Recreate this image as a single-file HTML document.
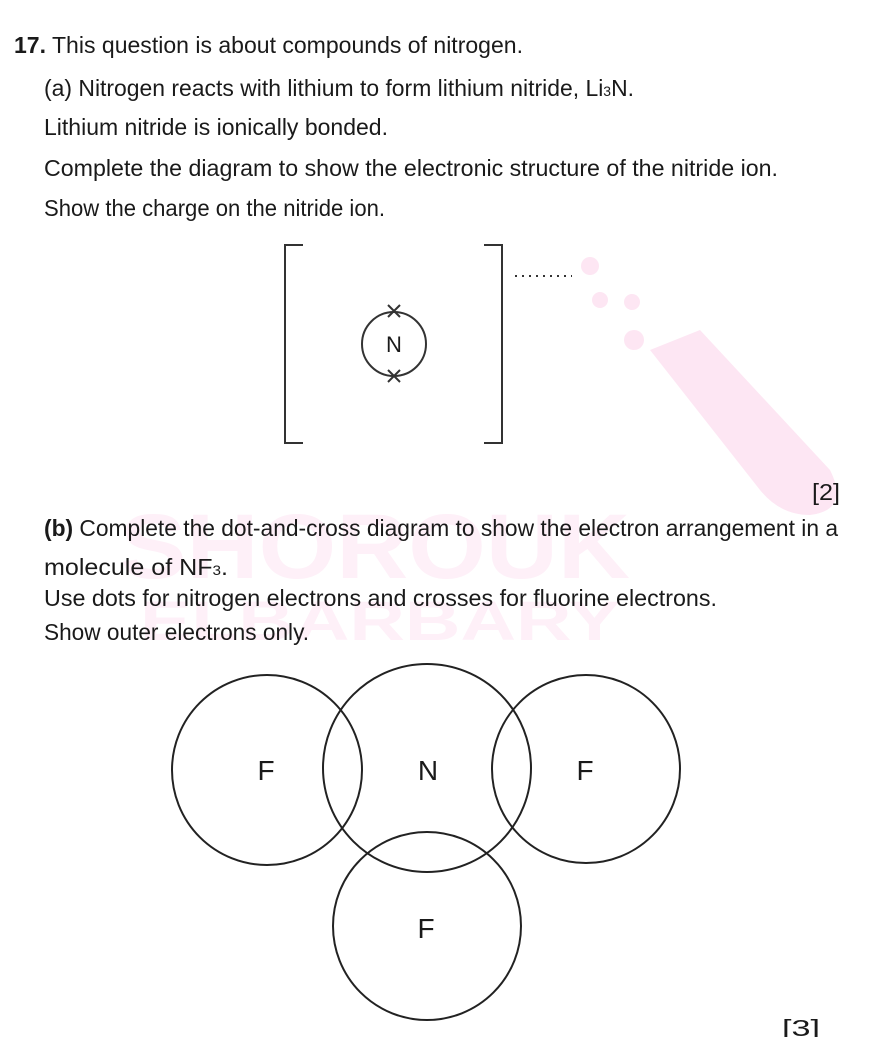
<!DOCTYPE html>
<html><head><meta charset="utf-8"><style>
html,body{margin:0;padding:0;background:#fff;}
svg{display:block;}
.t{font-family:"Liberation Sans",sans-serif;fill:#1a1a1a;}
.w{font-family:"Liberation Sans",sans-serif;fill:#fef0f8;}
</style></head><body>
<svg width="895" height="1037" viewBox="0 0 895 1037" xmlns="http://www.w3.org/2000/svg">
<g fill="#fde6f3">
<circle cx="590" cy="266" r="9"/><circle cx="600" cy="300" r="8"/><circle cx="632" cy="302" r="8"/><circle cx="634" cy="340" r="10"/>
<path d="M650 350 L700 330 L830 470 Q850 510 810 515 Q780 515 760 490 Z"/>
</g>
<text class="w" x="120" y="578" font-size="92" font-weight="bold" textLength="510" lengthAdjust="spacingAndGlyphs">SHOROUK</text>
<text class="w" x="140" y="640" font-size="56" font-weight="bold" textLength="480" lengthAdjust="spacingAndGlyphs">ELBARBARY</text>
<g font-size="23" class="t">
<text class="t" x="14" y="53" textLength="509" lengthAdjust="spacingAndGlyphs"><tspan font-weight="bold">17.</tspan> This question is about compounds of nitrogen.</text>
<text class="t" x="44" y="96" textLength="590" lengthAdjust="spacingAndGlyphs">(a) Nitrogen reacts with lithium to form lithium nitride, Li<tspan font-size="14">3</tspan>N.</text>
<text class="t" x="44" y="135" textLength="344" lengthAdjust="spacingAndGlyphs">Lithium nitride is ionically bonded.</text>
<text class="t" x="44" y="176" textLength="734" lengthAdjust="spacingAndGlyphs">Complete the diagram to show the electronic structure of the nitride ion.</text>
<text class="t" x="44" y="216" textLength="341" lengthAdjust="spacingAndGlyphs">Show the charge on the nitride ion.</text>
<text class="t" x="812" y="500" textLength="28" lengthAdjust="spacingAndGlyphs">[2]</text>
<text class="t" x="44" y="536" textLength="794" lengthAdjust="spacingAndGlyphs"><tspan font-weight="bold">(b)</tspan> Complete the dot-and-cross diagram to show the electron arrangement in a</text>
<text class="t" x="44" y="575" textLength="184" lengthAdjust="spacingAndGlyphs">molecule of NF<tspan font-size="14">3</tspan>.</text>
<text class="t" x="44" y="606" textLength="673" lengthAdjust="spacingAndGlyphs">Use dots for nitrogen electrons and crosses for fluorine electrons.</text>
<text class="t" x="44" y="640" textLength="265" lengthAdjust="spacingAndGlyphs">Show outer electrons only.</text>
<text class="t" x="782" y="1036" textLength="38" lengthAdjust="spacingAndGlyphs">[3]</text>
</g>
<g stroke="#333" stroke-width="2" fill="none">
<path d="M303 245 H285 V443 H303"/>
<path d="M484 245 H502 V443 H484"/>
<circle cx="394" cy="344" r="32"/>
<path d="M388 305 L400 317 M400 305 L388 317"/>
<path d="M388 370 L400 382 M400 370 L388 382"/>
</g>
<path d="M515 276 H572" stroke="#333" stroke-width="2" stroke-dasharray="2 5"/>
<text class="t" x="394" y="352" font-size="22" text-anchor="middle">N</text>
<g stroke="#222" stroke-width="2" fill="none">
<circle cx="267" cy="770" r="95"/>
<circle cx="427" cy="768" r="104"/>
<circle cx="586" cy="769" r="94"/>
<circle cx="427" cy="926" r="94"/>
</g>
<g font-size="28" text-anchor="middle">
<text class="t" x="266" y="780">F</text>
<text class="t" x="428" y="780">N</text>
<text class="t" x="585" y="780">F</text>
<text class="t" x="426" y="938">F</text>
</g>
</svg>
</body></html>
